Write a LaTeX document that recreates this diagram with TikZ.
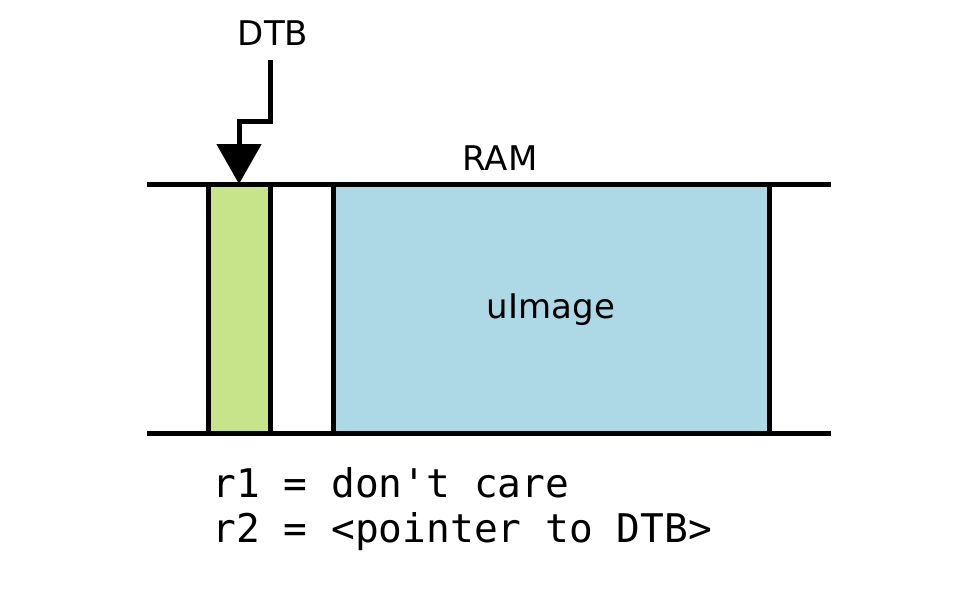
\documentclass[tikz,border=0pt]{standalone}
\usepackage{fontspec}
\setmainfont{DejaVu Sans}
\setmonofont{DejaVu Sans Mono}
\usetikzlibrary{arrows.meta}
\begin{document}
\begin{tikzpicture}[x=1pt,y=-1pt,line width=5pt,
  lbl/.style={font=\fontsize{34}{40}\selectfont,inner sep=0pt},
  code/.style={font=\ttfamily\fontsize{39.5}{46}\selectfont,inner sep=0pt,anchor=west}]
\useasboundingbox (0,0) rectangle (972,597);
\fill[white] (0,0) rectangle (972,597);
\draw[fill={rgb,255:red,200;green,228;blue,138}] (208,184) rectangle (270,433);
\draw[fill={rgb,255:red,173;green,216;blue,230}] (333,184) rectangle (769,433);
\coordinate (l1) at (147,184); \coordinate (r1) at (831,184);
\coordinate (l2) at (147,433); \coordinate (r2) at (831,433);
\draw (l1) -- (r1); \draw (l2) -- (r2);
\node[lbl] (dtb) at (273,33) {DTB};
\node[lbl] (ram) at (500,158) {RAM};
\node[lbl] (uimg) at (551,310) {uImage};
\coordinate (a0) at (270,60);
\coordinate (a1) at (239,184);
\draw[-{Triangle[width=44pt,length=40pt]},line cap=butt] (a0) |- (239,121) -- (a1);
\node[code] (c1) at (210,483) {r1 = don't care};
\node[code] (c2) at (210,532) {r2 = <pointer to DTB>};
\end{tikzpicture}
\end{document}
